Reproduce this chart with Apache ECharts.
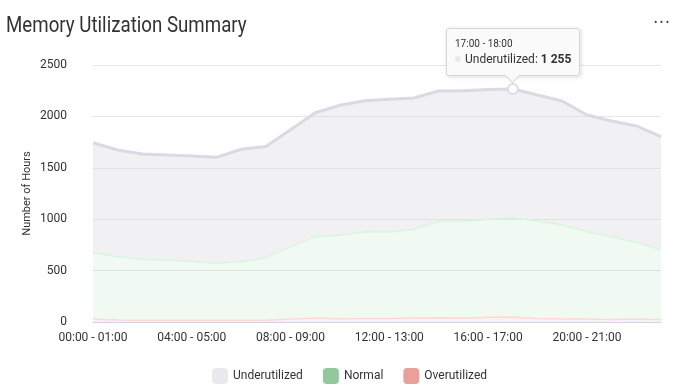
<!DOCTYPE html>
<html>
<head>
<meta charset="utf-8">
<script src="https://cdn.jsdelivr.net/npm/echarts@6/dist/echarts.min.js"></script>
<style>
html,body{margin:0;padding:0;background:#fff;}
#chart{width:682px;height:392px;}
</style>
</head>
<body>
<div id="chart"></div>
<script>
const categories = [
  "00:00 - 01:00","01:00 - 02:00","02:00 - 03:00","03:00 - 04:00","04:00 - 05:00","05:00 - 06:00",
  "06:00 - 07:00","07:00 - 08:00","08:00 - 09:00","09:00 - 10:00","10:00 - 11:00","11:00 - 12:00",
  "12:00 - 13:00","13:00 - 14:00","14:00 - 15:00","15:00 - 16:00","16:00 - 17:00","17:00 - 18:00",
  "18:00 - 19:00","19:00 - 20:00","20:00 - 21:00","21:00 - 22:00","22:00 - 23:00","23:00 - 24:00"
];
const overutilized = [30,20,18,18,18,17,17,17,28,38,32,35,35,38,42,38,45,48,35,30,28,25,30,25];
const normal = [644,615,592,582,572,555,570,609,705,792,811,843,840,863,937,941,954,963,947,913,850,805,745,675];
const underutilized = [1070,1038,1025,1024,1025,1030,1093,1082,1137,1206,1265,1275,1291,1278,1268,1271,1263,1255,1226,1207,1136,1125,1132,1103];
const yTicks = [0, 500, 1000, 1500, 2000, 2500];
const highlightIndex = 17;

const FONT = "Roboto, 'Noto Sans', sans-serif";
const chart = echarts.init(document.getElementById('chart'), null, {renderer: 'canvas'});

const underData = underutilized.map((v, i) => i === highlightIndex
  ? {value: v, symbolSize: 9, itemStyle: {color: '#ffffff', borderColor: '#dcdce3', borderWidth: 2}}
  : {value: v, symbolSize: 0});

function fmtNum(n){ return String(n).replace(/\B(?=(\d{3})+(?!\d))/g, ' '); }

const option = {
  animation: false,
  textStyle: {fontFamily: FONT},
  graphic: [
    {
      type: 'text', left: 6, top: 15, scaleX: 0.85, originX: 0,
      style: {text: 'Memory Utilization Summary', fontSize: 22, fill: '#333333', fontFamily: FONT}
    },
    {
      type: 'text', left: 654, top: 18,
      style: {text: '• • •', fontSize: 10, fill: '#444', fontFamily: FONT}
    }
  ],
  grid: {left: 93, right: 21, top: 65, bottom: 70, containLabel: false},
  legend: {
    data: [
      {name: 'Underutilized', itemStyle: {color: '#e8e9ed'}},
      {name: 'Normal', itemStyle: {color: '#95c79e'}},
      {name: 'Overutilized', itemStyle: {color: '#e9a09a'}}
    ],
    bottom: 3, left: 207,
    icon: 'roundRect', itemWidth: 16, itemHeight: 16, itemGap: 20,
    textStyle: {fontFamily: FONT, fontSize: 12, color: '#333333'}
  },
  tooltip: {
    trigger: 'axis',
    axisPointer: {type: 'none'},
    alwaysShowContent: true,
    triggerOn: 'none',
    backgroundColor: 'rgba(250,250,250,0.95)',
    borderColor: '#d6d6d6',
    borderWidth: 1,
    padding: [8, 8, 8, 8],
    transitionDuration: 0,
    extraCssText: 'box-shadow: 1px 1px 4px rgba(0,0,0,0.15); border-radius:3px;',
    formatter: function(params){
      const p = params.find(x => x.seriesName === 'Underutilized');
      return '<div style="font-family:Roboto,sans-serif;color:#333;line-height:1.35;">' +
        '<div style="font-size:10px;">' + p.name + '</div>' +
        '<div style="font-size:12px;"><span style="display:inline-block;width:6px;height:6px;border-radius:3px;background:#e8e9ed;margin-right:4px;vertical-align:middle;"></span>' +
        'Underutilized: <b>' + fmtNum(p.value) + '</b></div>' +
        '<div style="position:absolute;left:50%;bottom:-6px;width:10px;height:10px;margin-left:-6px;background:rgba(250,250,250,1);border-right:1px solid #d6d6d6;border-bottom:1px solid #d6d6d6;transform:rotate(45deg);"></div>' +
        '</div>';
    },
    position: function(point, params, dom, rect, size){
      const total = overutilized[highlightIndex] + normal[highlightIndex] + underutilized[highlightIndex];
      const px = chart.convertToPixel({gridIndex: 0}, [highlightIndex, total]);
      return [px[0] - size.contentSize[0] / 2, px[1] - size.contentSize[1] - 13];
    }
  },
  xAxis: {
    type: 'category',
    data: categories,
    boundaryGap: false,
    axisLine: {lineStyle: {color: '#ccd6eb'}},
    axisTick: {show: false},
    axisLabel: {interval: 3, margin: 10, fontSize: 12, color: '#333333', fontFamily: FONT}
  },
  yAxis: {
    type: 'value',
    min: 0, max: 2500, interval: 500,
    name: 'Number of Hours',
    nameLocation: 'middle',
    nameGap: 60,
    nameMoveOverlap: false,
    nameTextStyle: {fontSize: 11, color: '#333333', fontFamily: FONT},
    axisLine: {show: false},
    axisTick: {show: false},
    axisLabel: {margin: 26, fontSize: 12, color: '#333333', fontFamily: FONT,
      formatter: v => yTicks.includes(v) ? String(v) : ''},
    splitLine: {lineStyle: {color: '#e6e6e6'}}
  },
  series: [
    {
      name: 'Overutilized', type: 'line', stack: 'total', data: overutilized,
      showSymbol: false, symbol: 'none',
      itemStyle: {color: '#e9a09a'},
      lineStyle: {color: '#f2c6c1', width: 1.5},
      areaStyle: {color: 'rgba(235,130,120,0.2)'}
    },
    {
      name: 'Normal', type: 'line', stack: 'total', data: normal,
      showSymbol: false, symbol: 'none',
      itemStyle: {color: '#95c79e'},
      lineStyle: {color: '#c5e0c9', width: 1.5},
      areaStyle: {color: 'rgba(140,200,150,0.2)'}
    },
    {
      name: 'Underutilized', type: 'line', stack: 'total', data: underData,
      symbol: 'circle', showSymbol: true,
      itemStyle: {color: '#e8e9ed'},
      lineStyle: {color: '#dadae2', width: 3},
      areaStyle: {color: 'rgba(222,222,229,0.6)'},
      emphasis: {disabled: true}
    }
  ]
};
chart.setOption(option);
chart.dispatchAction({type: 'showTip', seriesIndex: 2, dataIndex: highlightIndex});
</script>
</body>
</html>
